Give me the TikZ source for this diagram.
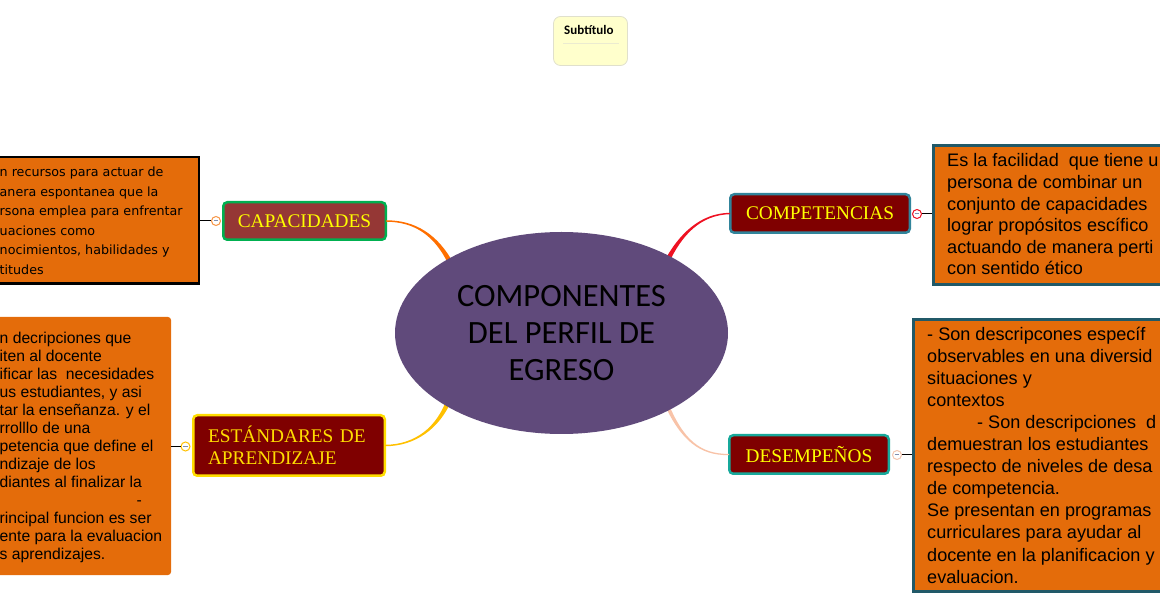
\documentclass[tikz,border=0pt]{standalone}
\usepackage{fontspec}
\setmainfont{Liberation Serif}
\newfontfamily\arialf{Liberation Sans}
\newfontfamily\calibf{Carlito}
\newfontfamily\tahf{DejaVu Sans}
\usetikzlibrary{shapes.geometric,calc}
\definecolor{boxor}{HTML}{E46C0A}
\definecolor{capfill}{HTML}{953735}
\definecolor{capbord}{HTML}{00B050}
\definecolor{dred}{HTML}{7F0000}
\definecolor{yel}{HTML}{FFFF00}
\definecolor{gold}{HTML}{FFDD00}
\definecolor{compbord}{HTML}{31849B}
\definecolor{desbord}{HTML}{17A99B}
\definecolor{boxb}{HTML}{215968}
\definecolor{ellc}{HTML}{604A7B}
\definecolor{corange}{HTML}{FF6F00}
\definecolor{cred}{HTML}{EE1122}
\definecolor{cyel}{HTML}{FFC000}
\definecolor{cpink}{HTML}{F8C3A8}
\definecolor{subfill}{HTML}{FFFFCC}
\definecolor{subbord}{HTML}{E0E0CC}
\definecolor{subline}{HTML}{EBEBD0}
\definecolor{minusc}{HTML}{7F8FB0}
\definecolor{ccol}{HTML}{F79646}
\definecolor{dcol}{HTML}{F4C7B0}
\tikzset{
  topic/.style={draw, line width=2.5pt, rounded corners=4pt, inner sep=0pt, align=center,
    font=\fontsize{19.3}{21.7}\selectfont},
  tbox/.style={draw=boxb, line width=3.3pt, fill=boxor},
  frag/.style={inner sep=0pt, anchor=base west},
  collapse/.style={circle, draw, fill=white, line width=1pt, minimum size=9pt, inner sep=0pt,
    path picture={\draw[minusc, line width=1pt] ([xshift=-2.3pt]path picture bounding box.center) -- ([xshift=2.3pt]path picture bounding box.center);}},
  link/.style={draw=black, line width=1pt},
}
\begin{document}
\begin{tikzpicture}[x=1pt,y=-1pt]
\useasboundingbox (0,0) rectangle (1160,609);
\clip (0,0) rectangle (1160,609);

% main topic nodes
\node[topic, fill=capfill, draw=capbord, text=yel, minimum width=162.5, minimum height=37.5] (cap) at (304.5,221) {CAPACIDADES};
\node[topic, fill=dred, draw=compbord, text=yel, minimum width=179.5, minimum height=38.5] (comp) at (820,213.5) {COMPETENCIAS};
\node[topic, fill=dred, draw=desbord, text=yel, minimum width=159.5, minimum height=38.5] (des) at (809,454.5) {DESEMPEÑOS};
\node[topic, fill=dred, draw=gold, text=gold, align=left, text width=162pt, minimum width=191.5, minimum height=60.5] (est) at (289,445.5) {ESTÁNDARES DE\\APRENDIZAJE};

% tapered branches
\coordinate (oE) at (452,266);
\coordinate (rE) at (666,263);
\coordinate (yE) at (449,400);
\coordinate (pE) at (666,403);
\fill[corange] ($(cap.east)+(-1,-0.7)$) .. controls (415,220.1) and (438.5,234.3) .. ($(oE)+(2.25,-1.1)$)
  -- ($(oE)+(-2.25,1.1)$) .. controls (435.5,235.7) and (415,221.9) .. ($(cap.east)+(-1,0.7)$) -- cycle;
\fill[cred] ($(comp.west)+(1,-0.7)$) .. controls (700,213.1) and (678.6,234.3) .. ($(rE)+(-2.2,-1.1)$)
  -- ($(rE)+(2.2,1.1)$) .. controls (681.4,235.7) and (700,214.9) .. ($(comp.west)+(1,0.7)$) -- cycle;
\fill[cyel] ($(est.east)+(-1,-0.7)$) .. controls (415,444.6) and (436.6,427.45) .. ($(yE)+(-2.3,-0.9)$)
  -- ($(yE)+(2.3,0.9)$) .. controls (439.4,428.55) and (415,446.4) .. ($(est.east)+(-1,0.7)$) -- cycle;
\fill[cpink] ($(des.west)+(1,-0.6)$) .. controls (700,454.2) and (683.1,439.5) .. ($(pE)+(1.84,-0.79)$)
  -- ($(pE)+(-1.84,0.79)$) .. controls (680.9,440.5) and (700,455.8) .. ($(des.west)+(1,0.6)$) -- cycle;

% central ellipse
\node[ellipse, fill=ellc, minimum width=333, minimum height=202, inner sep=0pt, align=center,
  font=\calibf\fontsize{32.5}{36.7}\selectfont] (ell) at (561.5,333) {COMPONENTES\\DEL PERFIL DE\\EGRESO};

% subtitle
\node[draw=subbord, fill=subfill, rounded corners=7pt, line width=0.8pt, minimum width=74, minimum height=49, inner sep=0pt] (sub) at (590.5,41) {};
\node[inner sep=0pt, anchor=base west, font=\calibf\bfseries\fontsize{13}{15}\selectfont] (subt) at (564,35) {Subtítulo};
\draw[subline, line width=0.8pt] ($(sub.north west)+(10,27)$) -- ($(sub.north east)+(-9,27)$);

% text boxes
\node[draw=black, line width=2.5pt, fill=boxor, minimum width=208.75, minimum height=126.5, inner sep=0pt] (capbox) at (94.4,220.5) {};
\node[fill=boxor, rounded corners=3pt, minimum width=181, minimum height=258, inner sep=0pt] (estbox) at (80.5,446) {};
\node[tbox, minimum width=239.7, minimum height=138.7, inner sep=0pt] (compbox) at (1053.5,215) {};
\node[tbox, minimum width=259.7, minimum height=271.7, inner sep=0pt] (desbox) at (1043.5,455.5) {};

% collapse markers and links
\node[collapse, draw=ccol] (cc) at (216,221) {};
\node[collapse, draw=cyel] (ec) at (185.5,446.5) {};
\node[collapse, draw=cred] (mc) at (917,214) {};
\node[collapse, draw=dcol] (dc) at (897,455) {};
\draw[link] (cc.west) -- (cc.west -| capbox.east);
\draw[link] (ec.west) -- (ec.west -| estbox.east);
\draw[link] (mc.east) -- (mc.east -| compbox.west);
\draw[link] (dc.east) -- (dc.east -| desbox.west);

% texts
\foreach \t [count=\i] in {n recursos para actuar de, anera espontanea que la, rsona emplea para enfrentar, uaciones como, {nocimientos, habilidades y}, titudes}
  \node[frag, font=\tahf\fontsize{12.7}{15}\selectfont] (capt\i) at (-0.5,{176.5+19.6*(\i-1)}) {\t};

\foreach \t [count=\i] in {n decripciones que, iten al docente, ificar las\ \ necesidades, {us estudiantes, y asi}, tar la enseñanza. y el, rrolllo de una, petencia que define el, ndizaje de los, diantes al finalizar la, \hspace*{137pt}-, rincipal funcion es ser, ente para la evaluacion, s aprendizajes.}
  \node[frag, font=\arialf\fontsize{15.7}{18}\selectfont] (estt\i) at (-0.5,{343.5+17.97*(\i-1)}) {\t};

\foreach \t [count=\i] in {Es la facilidad\ \ que tiene u, persona de combinar un, conjunto de capacidades, lograr propósitos escífico, actuando de manera perti, con sentido ético}
  \node[frag, font=\arialf\fontsize{18.1}{21}\selectfont] (compt\i) at (947,{167+21.6*(\i-1)}) {\t};

\foreach \t [count=\i] in {- Son descripcones específ, observables en una diversid, situaciones y, contextos, \hspace*{50pt}- Son descripciones\ \ d, demuestran los estudiantes, respecto de niveles de desa, de competencia., Se presentan en programas, curriculares para ayudar al, docente en la planificacion y, evaluacion.}
  \node[frag, font=\arialf\fontsize{18.1}{21}\selectfont] (dest\i) at (927,{341+22*(\i-1)}) {\t};
\end{tikzpicture}
\end{document}
